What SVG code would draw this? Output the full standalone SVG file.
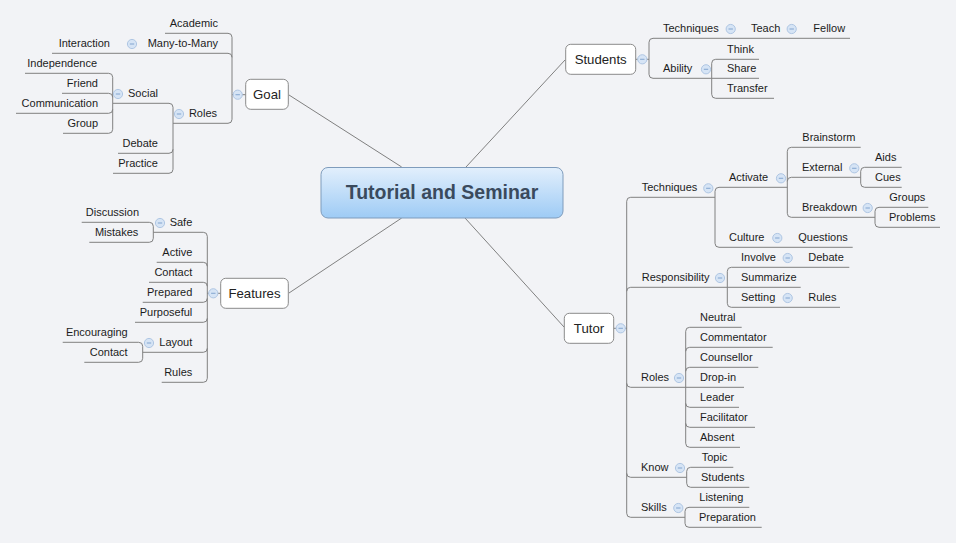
<svg xmlns="http://www.w3.org/2000/svg" xmlns:xlink="http://www.w3.org/1999/xlink" width="956" height="543" viewBox="0 0 956 543">
<style>
.ln{fill:none;stroke:#808080;stroke-width:1}
.t{font-family:"Liberation Sans",Arial,sans-serif;font-size:11px;fill:#1c1c1c}
.e{text-anchor:end}
.bx{fill:#ffffff;stroke:#8a8a8a;stroke-width:1}
.nt{font-family:"Liberation Sans",Arial,sans-serif;font-size:13.2px;fill:#222;text-anchor:middle}
.title{font-family:"Liberation Sans",Arial,sans-serif;font-size:19.5px;font-weight:bold;fill:#3a4a5d;text-anchor:middle}
</style>
<defs>
<linearGradient id="gc" x1="0" y1="0" x2="0" y2="1">
<stop offset="0" stop-color="#e2effc"/>
<stop offset="1" stop-color="#9ecbf5"/>
</linearGradient>
<g id="cb"><circle r="4.6" fill="#d6e4f5" stroke="#afc6e3" stroke-width="1"/><line x1="-2.2" y1="0" x2="2.2" y2="0" stroke="#8aaad2" stroke-width="1.1"/></g>
</defs>
<rect width="956" height="543" fill="#f2f3f6"/>
<g id="connectors">
<path class="ln" d="M289,95 L401.7,167 M565,60 L466,167 M289,293 L401.7,218 M465,218 L564,327"/>
<!-- Goal -->
<path class="ln" d="M232,37.3 V119.3 M165,33.3 H228 Q232,33.3 232,37.3 M52,53.3 H228 Q232,53.3 232,57.3 M173,123.3 H228 Q232,123.3 232,119.3 M232,94.7 H245.7"/>
<path class="ln" d="M173,107.3 V169.3 M113,103.3 H169 Q173,103.3 173,107.3 M118,153.3 H169 Q173,153.3 173,149.3 M113,173.3 H169 Q173,173.3 173,169.3"/>
<path class="ln" d="M112.7,77.3 V129.3 M25,73.3 H108.7 Q112.7,73.3 112.7,77.3 M62,93.3 H108.7 Q112.7,93.3 112.7,97.3 M16,113.3 H108.7 Q112.7,113.3 112.7,109.3 M63,133.3 H108.7 Q112.7,133.3 112.7,129.3"/>
<!-- Features -->
<path class="ln" d="M207.3,236.3 V378.3 M153.3,232.3 H203.3 Q207.3,232.3 207.3,236.3 M156.7,262.3 H203.3 Q207.3,262.3 207.3,266.3 M149,282.3 H203.3 Q207.3,282.3 207.3,286.3 M142.7,302.3 H203.3 Q207.3,302.3 207.3,298.3 M135,322.3 H203.3 Q207.3,322.3 207.3,318.3 M142.7,352.3 H203.3 Q207.3,352.3 207.3,348.3 M161.7,382.3 H203.3 Q207.3,382.3 207.3,378.3 M207.3,293.3 H220.7"/>
<path class="ln" d="M153.3,226.3 V238.3 M81.7,222.3 H149.3 Q153.3,222.3 153.3,226.3 M89.3,242.3 H149.3 Q153.3,242.3 153.3,238.3"/>
<path class="ln" d="M142.7,346.3 V358.3 M62.7,342.3 H138.7 Q142.7,342.3 142.7,346.3 M84.3,362.3 H138.7 Q142.7,362.3 142.7,358.3"/>
<!-- Students -->
<path class="ln" d="M649,42.3 V74.3 M850,38.3 H653 Q649,38.3 649,42.3 M711.7,78.3 H653 Q649,78.3 649,74.3 M635.7,59.3 H649"/>
<path class="ln" d="M711.7,63.3 V94.3 M759,59.3 H715.7 Q711.7,59.3 711.7,63.3 M759,78.3 H711.7 M774,98.3 H715.7 Q711.7,98.3 711.7,94.3"/>
<!-- Tutor -->
<path class="ln" d="M626.7,201.3 V513.3 M715,197.3 H630.7 Q626.7,197.3 626.7,201.3 M727.3,287.3 H630.7 Q626.7,287.3 626.7,291.3 M685.7,387.3 H630.7 Q626.7,387.3 626.7,383.3 M686.7,477.3 H630.7 Q626.7,477.3 626.7,473.3 M685,517.3 H630.7 Q626.7,517.3 626.7,513.3 M613.7,328.3 H626.7"/>
<path class="ln" d="M715,191.3 V243.3 M787.3,187.3 H719 Q715,187.3 715,191.3 M852.7,247.3 H719 Q715,247.3 715,243.3"/>
<path class="ln" d="M787.3,151.3 V213.3 M860.7,147.3 H791.3 Q787.3,147.3 787.3,151.3 M860.7,177.3 H791.3 Q787.3,177.3 787.3,181.3 M875,217.3 H791.3 Q787.3,217.3 787.3,213.3"/>
<path class="ln" d="M860.7,171.3 V183.3 M901.7,167.3 H864.7 Q860.7,167.3 860.7,171.3 M901.7,187.3 H864.7 Q860.7,187.3 860.7,183.3"/>
<path class="ln" d="M875,211.3 V223.3 M928.3,207.3 H879 Q875,207.3 875,211.3 M940,227.3 H879 Q875,227.3 875,223.3"/>
<path class="ln" d="M727.3,271.3 V303.3 M849.3,267.3 H731.3 Q727.3,267.3 727.3,271.3 M800.7,287.3 H727.3 M840,307.3 H731.3 Q727.3,307.3 727.3,303.3"/>
<path class="ln" d="M685.7,331.3 V443.3 M741.7,327.3 H689.7 Q685.7,327.3 685.7,331.3 M772.7,347.3 H689.7 Q685.7,347.3 685.7,351.3 M758.3,367.3 H689.7 Q685.7,367.3 685.7,371.3 M744,387.3 H685.7 M739,407.3 H689.7 Q685.7,407.3 685.7,403.3 M755,427.3 H689.7 Q685.7,427.3 685.7,423.3 M740,447.3 H689.7 Q685.7,447.3 685.7,443.3"/>
<path class="ln" d="M686.7,471.3 V483.3 M733.3,467.3 H690.7 Q686.7,467.3 686.7,471.3 M749.3,487.3 H690.7 Q686.7,487.3 686.7,483.3"/>
<path class="ln" d="M685,511.3 V523.3 M749.3,507.3 H689 Q685,507.3 685,511.3 M761.7,527.3 H689 Q685,527.3 685,523.3"/>
</g>

<g id="n-center"><rect x="321" y="167.5" width="242" height="50.5" rx="7" fill="url(#gc)" stroke="#7f9cbc" stroke-width="1"/><text class="title" x="442" y="199">Tutorial and Seminar</text></g>

<g id="n-goal"><rect class="bx" x="245.7" y="79.3" width="42.6" height="30" rx="5"/><text class="nt" x="267" y="99.3">Goal</text><use xlink:href="#cb" x="237.7" y="94.7"/></g>
<g id="n-academic"><text class="t e" x="218" y="27.3">Academic</text></g>
<g id="n-many"><text class="t e" x="218" y="47.3">Many-to-Many</text><use xlink:href="#cb" x="132" y="44"/></g>
<g id="n-interaction"><text class="t e" x="110" y="47.3">Interaction</text></g>
<g id="n-roles-g"><text class="t e" x="217" y="117.3">Roles</text><use xlink:href="#cb" x="179" y="114"/></g>
<g id="n-social"><text class="t e" x="158" y="97.3">Social</text><use xlink:href="#cb" x="118" y="94"/></g>
<g id="n-debate-g"><text class="t e" x="158" y="147.3">Debate</text></g>
<g id="n-practice"><text class="t e" x="158" y="167.3">Practice</text></g>
<g id="n-independence"><text class="t e" x="97" y="67.3">Independence</text></g>
<g id="n-friend"><text class="t e" x="98" y="87.3">Friend</text></g>
<g id="n-communication"><text class="t e" x="98" y="107.3">Communication</text></g>
<g id="n-group"><text class="t e" x="98" y="127.3">Group</text></g>

<g id="n-features"><rect class="bx" x="220.7" y="278.3" width="67.6" height="30" rx="5"/><text class="nt" x="254.5" y="298.3">Features</text><use xlink:href="#cb" x="213.3" y="293.3"/></g>
<g id="n-safe"><text class="t e" x="192.3" y="226.3">Safe</text><use xlink:href="#cb" x="160" y="223"/></g>
<g id="n-active"><text class="t e" x="192.3" y="256.3">Active</text></g>
<g id="n-contact-f"><text class="t e" x="192.3" y="276.3">Contact</text></g>
<g id="n-prepared"><text class="t e" x="192.3" y="296.3">Prepared</text></g>
<g id="n-purposeful"><text class="t e" x="192.3" y="316.3">Purposeful</text></g>
<g id="n-layout"><text class="t e" x="192.3" y="346.3">Layout</text><use xlink:href="#cb" x="149" y="343"/></g>
<g id="n-rules-f"><text class="t e" x="192.3" y="376.3">Rules</text></g>
<g id="n-discussion"><text class="t e" x="139" y="216.3">Discussion</text></g>
<g id="n-mistakes"><text class="t e" x="138.3" y="236.3">Mistakes</text></g>
<g id="n-encouraging"><text class="t e" x="127.7" y="336.3">Encouraging</text></g>
<g id="n-contact-l"><text class="t e" x="127.7" y="356.3">Contact</text></g>

<g id="n-students"><rect class="bx" x="565.7" y="44.3" width="70" height="30" rx="5"/><text class="nt" x="600.7" y="64.3">Students</text><use xlink:href="#cb" x="642.3" y="59.3"/></g>
<g id="n-tech-s"><text class="t" x="663" y="32.3">Techniques</text><use xlink:href="#cb" x="730.7" y="29"/></g>
<g id="n-teach"><text class="t" x="751" y="32.3">Teach</text><use xlink:href="#cb" x="791.7" y="29"/></g>
<g id="n-fellow"><text class="t" x="813.3" y="32.3">Fellow</text></g>
<g id="n-ability"><text class="t" x="663" y="72.3">Ability</text><use xlink:href="#cb" x="706" y="69.3"/></g>
<g id="n-think"><text class="t" x="727" y="53.3">Think</text></g>
<g id="n-share"><text class="t" x="727" y="72.3">Share</text></g>
<g id="n-transfer"><text class="t" x="727" y="92.3">Transfer</text></g>

<g id="n-tutor"><rect class="bx" x="564.3" y="313.3" width="49.4" height="30" rx="5"/><text class="nt" x="589" y="333.3">Tutor</text><use xlink:href="#cb" x="620.7" y="328.3"/></g>
<g id="n-tech-t"><text class="t" x="641.7" y="191.3">Techniques</text><use xlink:href="#cb" x="708.3" y="188.3"/></g>
<g id="n-activate"><text class="t" x="729" y="181.3">Activate</text><use xlink:href="#cb" x="781" y="178.3"/></g>
<g id="n-brainstorm"><text class="t" x="802.3" y="141.3">Brainstorm</text></g>
<g id="n-external"><text class="t" x="802" y="171.3">External</text><use xlink:href="#cb" x="854.3" y="168.3"/></g>
<g id="n-aids"><text class="t" x="875" y="161.3">Aids</text></g>
<g id="n-cues"><text class="t" x="875" y="181.3">Cues</text></g>
<g id="n-breakdown"><text class="t" x="802" y="211.3">Breakdown</text><use xlink:href="#cb" x="867.7" y="208"/></g>
<g id="n-groups"><text class="t" x="889.3" y="201.3">Groups</text></g>
<g id="n-problems"><text class="t" x="889" y="221.3">Problems</text></g>
<g id="n-culture"><text class="t" x="729" y="241.3">Culture</text><use xlink:href="#cb" x="777.3" y="238"/></g>
<g id="n-questions"><text class="t" x="798.3" y="241.3">Questions</text></g>
<g id="n-responsibility"><text class="t" x="641.7" y="281.3">Responsibility</text><use xlink:href="#cb" x="720" y="278"/></g>
<g id="n-involve"><text class="t" x="741" y="261.3">Involve</text><use xlink:href="#cb" x="787.7" y="258"/></g>
<g id="n-debate-t"><text class="t" x="808.3" y="261.3">Debate</text></g>
<g id="n-summarize"><text class="t" x="741" y="281.3">Summarize</text></g>
<g id="n-setting"><text class="t" x="741" y="301.3">Setting</text><use xlink:href="#cb" x="787.7" y="298"/></g>
<g id="n-rules-t"><text class="t" x="808.3" y="301.3">Rules</text></g>
<g id="n-roles-t"><text class="t" x="641" y="381.3">Roles</text><use xlink:href="#cb" x="679" y="378"/></g>
<g id="n-neutral"><text class="t" x="700" y="321.3">Neutral</text></g>
<g id="n-commentator"><text class="t" x="700" y="341.3">Commentator</text></g>
<g id="n-counsellor"><text class="t" x="700" y="361.3">Counsellor</text></g>
<g id="n-dropin"><text class="t" x="700" y="381.3">Drop-in</text></g>
<g id="n-leader"><text class="t" x="700" y="401.3">Leader</text></g>
<g id="n-facilitator"><text class="t" x="700" y="421.3">Facilitator</text></g>
<g id="n-absent"><text class="t" x="700" y="441.3">Absent</text></g>
<g id="n-know"><text class="t" x="641" y="471.3">Know</text><use xlink:href="#cb" x="680" y="468"/></g>
<g id="n-topic"><text class="t" x="701.7" y="461.3">Topic</text></g>
<g id="n-students-t"><text class="t" x="701" y="481.3">Students</text></g>
<g id="n-skills"><text class="t" x="641" y="511.3">Skills</text><use xlink:href="#cb" x="678.3" y="508"/></g>
<g id="n-listening"><text class="t" x="699.3" y="501.3">Listening</text></g>
<g id="n-preparation"><text class="t" x="699" y="521.3">Preparation</text></g>
</svg>
